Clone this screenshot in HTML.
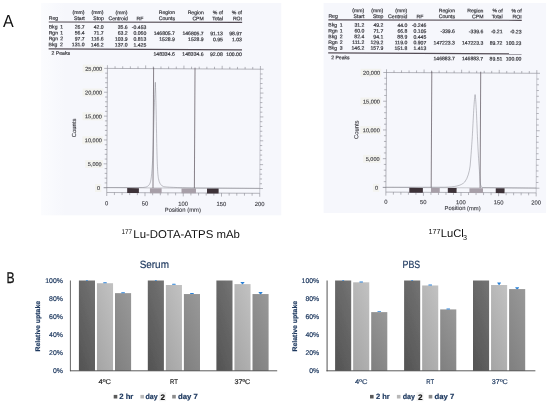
<!DOCTYPE html>
<html><head><meta charset="utf-8"><title>Figure</title>
<style>
html,body{margin:0;padding:0;background:#fff;}
body{width:550px;height:406px;overflow:hidden;font-family:"Liberation Sans",sans-serif;}
svg{display:block;font-family:"Liberation Sans",sans-serif;text-rendering:geometricPrecision;}
</style></head><body>
<svg width="550" height="406" viewBox="0 0 550 406">
<defs>
<linearGradient id="g1" x1="0.147" y1="1.147" x2="0.853" y2="-0.147"><stop offset="0" stop-color="#515151"/><stop offset="1" stop-color="#757575"/></linearGradient>
<linearGradient id="g2" x1="0.147" y1="1.147" x2="0.853" y2="-0.147"><stop offset="0" stop-color="#a3a3a3"/><stop offset="1" stop-color="#c3c3c3"/></linearGradient>
<linearGradient id="g3" x1="0.147" y1="1.147" x2="0.853" y2="-0.147"><stop offset="0" stop-color="#7e7e7e"/><stop offset="1" stop-color="#9a9a9a"/></linearGradient>
<linearGradient id="pg" x1="0" x2="1" y1="0" y2="0"><stop offset="0" stop-color="#fbfcfe"/><stop offset="0.1" stop-color="#f6f7fc"/><stop offset="1" stop-color="#f6f7fc"/></linearGradient>
<filter id="soft" x="-2%" y="-2%" width="104%" height="104%"><feGaussianBlur stdDeviation="0.35"/></filter>
<filter id="soft2" x="-2%" y="-5%" width="104%" height="110%"><feGaussianBlur stdDeviation="0.3"/></filter>
</defs>
<rect width="550" height="406" fill="#fff"/>
<text x="3.1" y="27.1" font-size="17.6" fill="#111" textLength="10.7" lengthAdjust="spacingAndGlyphs">A</text>
<text x="6.5" y="282.7" font-size="15.5" fill="#111" stroke="#111" stroke-width="0.25" textLength="8.1" lengthAdjust="spacingAndGlyphs">B</text>
<rect x="41.0" y="3" width="240.2" height="212.3" fill="url(#pg)"/>
<g filter="url(#soft)"><g transform="rotate(0.3 183 128)">
<text x="83.9" y="14.5" text-anchor="end" font-size="5.1" fill="#36363c" stroke="#36363c" stroke-width="0.2">(mm)</text>
<text x="102.9" y="14.5" text-anchor="end" font-size="5.1" fill="#36363c" stroke="#36363c" stroke-width="0.2">(mm)</text>
<text x="126.9" y="14.5" text-anchor="end" font-size="5.1" fill="#36363c" stroke="#36363c" stroke-width="0.2">(mm)</text>
<text x="174.4" y="14.1" text-anchor="end" font-size="5.1" fill="#36363c" stroke="#36363c" stroke-width="0.2">Region</text>
<text x="203.2" y="14.1" text-anchor="end" font-size="5.1" fill="#36363c" stroke="#36363c" stroke-width="0.2">Region</text>
<text x="222.4" y="14.0" text-anchor="end" font-size="5.1" fill="#36363c" stroke="#36363c" stroke-width="0.2">% of</text>
<text x="241.4" y="14.0" text-anchor="end" font-size="5.1" fill="#36363c" stroke="#36363c" stroke-width="0.2">% of</text>
<text x="48.2" y="20.5" font-size="5.1" fill="#36363c" stroke="#36363c" stroke-width="0.2">Reg</text>
<text x="84.2" y="20.5" text-anchor="end" font-size="5.1" fill="#36363c" stroke="#36363c" stroke-width="0.2">Start</text>
<text x="103.2" y="20.5" text-anchor="end" font-size="5.1" fill="#36363c" stroke="#36363c" stroke-width="0.2">Stop</text>
<text x="127.2" y="20.5" text-anchor="end" font-size="5.1" fill="#36363c" stroke="#36363c" stroke-width="0.2">Centroid</text>
<text x="142.8" y="20.5" text-anchor="end" font-size="5.1" fill="#36363c" stroke="#36363c" stroke-width="0.2">RF</text>
<text x="174.4" y="20.2" text-anchor="end" font-size="5.1" fill="#36363c" stroke="#36363c" stroke-width="0.2">Counts</text>
<text x="203.2" y="20.2" text-anchor="end" font-size="5.1" fill="#36363c" stroke="#36363c" stroke-width="0.2">CPM</text>
<text x="222.4" y="20.1" text-anchor="end" font-size="5.1" fill="#36363c" stroke="#36363c" stroke-width="0.2">Total</text>
<text x="241.4" y="20.1" text-anchor="end" font-size="5.1" fill="#36363c" stroke="#36363c" stroke-width="0.2">ROI</text>
<line x1="48.2" x2="241.6" y1="22.7" y2="22.099999999999998" stroke="#554d56" stroke-width="1.15"/>
<line x1="48.2" x2="241.6" y1="49.6" y2="49.6" stroke="#554d56" stroke-width="1.15"/>
<text x="48.2" y="29.2" font-size="5.1" fill="#36363c" stroke="#36363c" stroke-width="0.2">Bkg</text>
<text x="59.7" y="29.2" font-size="5.1" fill="#36363c" stroke="#36363c" stroke-width="0.2">1</text>
<text x="84.2" y="29.2" text-anchor="end" font-size="5.1" fill="#36363c" stroke="#36363c" stroke-width="0.2">26.7</text>
<text x="103.2" y="29.2" text-anchor="end" font-size="5.1" fill="#36363c" stroke="#36363c" stroke-width="0.2">42.0</text>
<text x="127.2" y="29.2" text-anchor="end" font-size="5.1" fill="#36363c" stroke="#36363c" stroke-width="0.2">35.6</text>
<text x="145.8" y="29.2" text-anchor="end" font-size="5.1" fill="#36363c" stroke="#36363c" stroke-width="0.2">-0.453</text>
<text x="48.2" y="35.1" font-size="5.1" fill="#36363c" stroke="#36363c" stroke-width="0.2">Rgn</text>
<text x="59.7" y="35.1" font-size="5.1" fill="#36363c" stroke="#36363c" stroke-width="0.2">1</text>
<text x="84.2" y="35.1" text-anchor="end" font-size="5.1" fill="#36363c" stroke="#36363c" stroke-width="0.2">56.4</text>
<text x="103.2" y="35.1" text-anchor="end" font-size="5.1" fill="#36363c" stroke="#36363c" stroke-width="0.2">71.7</text>
<text x="127.2" y="35.1" text-anchor="end" font-size="5.1" fill="#36363c" stroke="#36363c" stroke-width="0.2">63.2</text>
<text x="145.8" y="35.1" text-anchor="end" font-size="5.1" fill="#36363c" stroke="#36363c" stroke-width="0.2">0.060</text>
<text x="174.4" y="35.1" text-anchor="end" font-size="5.1" fill="#36363c" stroke="#36363c" stroke-width="0.2">146805.7</text>
<text x="203.2" y="35.1" text-anchor="end" font-size="5.1" fill="#36363c" stroke="#36363c" stroke-width="0.2">146805.7</text>
<text x="222.4" y="35.1" text-anchor="end" font-size="5.1" fill="#36363c" stroke="#36363c" stroke-width="0.2">91.13</text>
<text x="241.4" y="35.1" text-anchor="end" font-size="5.1" fill="#36363c" stroke="#36363c" stroke-width="0.2">98.97</text>
<text x="48.2" y="41.0" font-size="5.1" fill="#36363c" stroke="#36363c" stroke-width="0.2">Rgn</text>
<text x="59.7" y="41.0" font-size="5.1" fill="#36363c" stroke="#36363c" stroke-width="0.2">2</text>
<text x="84.2" y="41.0" text-anchor="end" font-size="5.1" fill="#36363c" stroke="#36363c" stroke-width="0.2">97.7</text>
<text x="103.2" y="41.0" text-anchor="end" font-size="5.1" fill="#36363c" stroke="#36363c" stroke-width="0.2">116.6</text>
<text x="127.2" y="41.0" text-anchor="end" font-size="5.1" fill="#36363c" stroke="#36363c" stroke-width="0.2">103.9</text>
<text x="145.8" y="41.0" text-anchor="end" font-size="5.1" fill="#36363c" stroke="#36363c" stroke-width="0.2">0.813</text>
<text x="174.4" y="41.0" text-anchor="end" font-size="5.1" fill="#36363c" stroke="#36363c" stroke-width="0.2">1528.9</text>
<text x="203.2" y="41.0" text-anchor="end" font-size="5.1" fill="#36363c" stroke="#36363c" stroke-width="0.2">1528.9</text>
<text x="222.4" y="41.0" text-anchor="end" font-size="5.1" fill="#36363c" stroke="#36363c" stroke-width="0.2">0.95</text>
<text x="241.4" y="41.0" text-anchor="end" font-size="5.1" fill="#36363c" stroke="#36363c" stroke-width="0.2">1.03</text>
<text x="48.2" y="46.9" font-size="5.1" fill="#36363c" stroke="#36363c" stroke-width="0.2">Bkg</text>
<text x="59.7" y="46.9" font-size="5.1" fill="#36363c" stroke="#36363c" stroke-width="0.2">2</text>
<text x="84.2" y="46.9" text-anchor="end" font-size="5.1" fill="#36363c" stroke="#36363c" stroke-width="0.2">131.0</text>
<text x="103.2" y="46.9" text-anchor="end" font-size="5.1" fill="#36363c" stroke="#36363c" stroke-width="0.2">146.2</text>
<text x="127.2" y="46.9" text-anchor="end" font-size="5.1" fill="#36363c" stroke="#36363c" stroke-width="0.2">137.0</text>
<text x="145.8" y="46.9" text-anchor="end" font-size="5.1" fill="#36363c" stroke="#36363c" stroke-width="0.2">1.425</text>
<text x="51.2" y="55.4" font-size="5.1" fill="#36363c" stroke="#36363c" stroke-width="0.2">2 Peaks</text>
<text x="174.4" y="55.8" text-anchor="end" font-size="5.1" fill="#36363c" stroke="#36363c" stroke-width="0.2">148334.6</text>
<text x="203.2" y="55.8" text-anchor="end" font-size="5.1" fill="#36363c" stroke="#36363c" stroke-width="0.2">148334.6</text>
<text x="222.4" y="55.8" text-anchor="end" font-size="5.1" fill="#36363c" stroke="#36363c" stroke-width="0.2">92.08</text>
<text x="241.4" y="55.8" text-anchor="end" font-size="5.1" fill="#36363c" stroke="#36363c" stroke-width="0.2">100.00</text>
<path d="M260.1 68.8 H107.1 V192.9 H260.1" stroke="#70707a" stroke-width="0.5" fill="none"/>
<path d="M260.1 68.8 V192.9" stroke="#8e8e98" stroke-width="0.45" fill="none"/>
<line x1="104.1" x2="260.1" y1="188.1" y2="188.1" stroke="#8a8a92" stroke-width="0.45"/>
<path d="M107.10 68.8 v-3.2 M107.10 192.9 v3.5 M114.75 68.8 v-2.2 M114.75 192.9 v2.5 M122.40 68.8 v-2.2 M122.40 192.9 v2.5 M130.05 68.8 v-2.2 M130.05 192.9 v2.5 M137.70 68.8 v-2.2 M137.70 192.9 v2.5 M145.35 68.8 v-3.2 M145.35 192.9 v3.5 M153.00 68.8 v-2.2 M153.00 192.9 v2.5 M160.65 68.8 v-2.2 M160.65 192.9 v2.5 M168.30 68.8 v-2.2 M168.30 192.9 v2.5 M175.95 68.8 v-2.2 M175.95 192.9 v2.5 M183.60 68.8 v-3.2 M183.60 192.9 v3.5 M191.25 68.8 v-2.2 M191.25 192.9 v2.5 M198.90 68.8 v-2.2 M198.90 192.9 v2.5 M206.55 68.8 v-2.2 M206.55 192.9 v2.5 M214.20 68.8 v-2.2 M214.20 192.9 v2.5 M221.85 68.8 v-3.2 M221.85 192.9 v3.5 M229.50 68.8 v-2.2 M229.50 192.9 v2.5 M237.15 68.8 v-2.2 M237.15 192.9 v2.5 M244.80 68.8 v-2.2 M244.80 192.9 v2.5 M252.45 68.8 v-2.2 M252.45 192.9 v2.5 M260.10 68.8 v-3.2 M260.10 192.9 v3.5" stroke="#70707a" stroke-width="0.5" fill="none"/>
<path d="M107.1 188.10 h-3.2 M260.1 188.10 h3.2 M107.1 183.33 h-2.2 M260.1 183.33 h2.2 M107.1 178.56 h-2.2 M260.1 178.56 h2.2 M107.1 173.78 h-2.2 M260.1 173.78 h2.2 M107.1 169.01 h-2.2 M260.1 169.01 h2.2 M107.1 164.24 h-3.2 M260.1 164.24 h3.2 M107.1 159.47 h-2.2 M260.1 159.47 h2.2 M107.1 154.70 h-2.2 M260.1 154.70 h2.2 M107.1 149.92 h-2.2 M260.1 149.92 h2.2 M107.1 145.15 h-2.2 M260.1 145.15 h2.2 M107.1 140.38 h-3.2 M260.1 140.38 h3.2 M107.1 135.61 h-2.2 M260.1 135.61 h2.2 M107.1 130.84 h-2.2 M260.1 130.84 h2.2 M107.1 126.06 h-2.2 M260.1 126.06 h2.2 M107.1 121.29 h-2.2 M260.1 121.29 h2.2 M107.1 116.52 h-3.2 M260.1 116.52 h3.2 M107.1 111.75 h-2.2 M260.1 111.75 h2.2 M107.1 106.98 h-2.2 M260.1 106.98 h2.2 M107.1 102.20 h-2.2 M260.1 102.20 h2.2 M107.1 97.43 h-2.2 M260.1 97.43 h2.2 M107.1 92.66 h-3.2 M260.1 92.66 h3.2 M107.1 87.89 h-2.2 M260.1 87.89 h2.2 M107.1 83.12 h-2.2 M260.1 83.12 h2.2 M107.1 78.34 h-2.2 M260.1 78.34 h2.2 M107.1 73.57 h-2.2 M260.1 73.57 h2.2 M107.1 68.80 h-3.2 M260.1 68.80 h3.2" stroke="#70707a" stroke-width="0.5" fill="none"/>
<rect x="95.30" y="184.40" width="6.40" height="8" fill="#f3f3ef"/>
<text x="100.50" y="190.45" text-anchor="end" font-size="5.55" fill="#3a3a40" stroke="#3a3a40" stroke-width="0.12">0</text>
<rect x="85.40" y="160.54" width="17.70" height="8" fill="#f3f3ef"/>
<text x="101.90" y="166.59" text-anchor="end" font-size="5.55" fill="#3a3a40" stroke="#3a3a40" stroke-width="0.12">5,000</text>
<rect x="82.40" y="136.68" width="20.70" height="8" fill="#f3f3ef"/>
<text x="101.90" y="142.73" text-anchor="end" font-size="5.55" fill="#3a3a40" stroke="#3a3a40" stroke-width="0.12">10,000</text>
<rect x="82.40" y="112.82" width="20.70" height="8" fill="#f3f3ef"/>
<text x="101.90" y="118.87" text-anchor="end" font-size="5.55" fill="#3a3a40" stroke="#3a3a40" stroke-width="0.12">15,000</text>
<rect x="82.40" y="88.96" width="20.70" height="8" fill="#f3f3ef"/>
<text x="101.90" y="95.01" text-anchor="end" font-size="5.55" fill="#3a3a40" stroke="#3a3a40" stroke-width="0.12">20,000</text>
<rect x="82.40" y="65.10" width="20.70" height="8" fill="#f3f3ef"/>
<text x="101.90" y="71.15" text-anchor="end" font-size="5.55" fill="#3a3a40" stroke="#3a3a40" stroke-width="0.12">25,000</text>
<text x="107.10" y="205.7" text-anchor="middle" font-size="5.85" fill="#3a3a40" stroke="#3a3a40" stroke-width="0.12">0</text>
<text x="145.35" y="205.7" text-anchor="middle" font-size="5.85" fill="#3a3a40" stroke="#3a3a40" stroke-width="0.12">50</text>
<text x="183.60" y="205.7" text-anchor="middle" font-size="5.85" fill="#3a3a40" stroke="#3a3a40" stroke-width="0.12">100</text>
<text x="221.85" y="205.7" text-anchor="middle" font-size="5.85" fill="#3a3a40" stroke="#3a3a40" stroke-width="0.12">150</text>
<text x="260.10" y="205.7" text-anchor="middle" font-size="5.85" fill="#3a3a40" stroke="#3a3a40" stroke-width="0.12">200</text>
<text x="183.30" y="211.8" text-anchor="middle" font-size="5.85" fill="#3a3a40" stroke="#3a3a40" stroke-width="0.12">Position (mm)</text>
<text transform="translate(76.0 128.45) rotate(-90)" text-anchor="middle" font-size="5.85" fill="#3a3a40" stroke="#3a3a40" stroke-width="0.12">Counts</text>
<rect x="127.53" y="188.4" width="11.70" height="4.90" fill="#3d3238"/>
<rect x="150.25" y="188.4" width="11.70" height="4.90" fill="#a79fa8"/>
<rect x="181.84" y="188.4" width="14.46" height="4.90" fill="#a79fa8"/>
<rect x="207.31" y="188.4" width="11.63" height="4.90" fill="#3d3238"/>
<line x1="153.3" x2="153.3" y1="67.6" y2="188.1" stroke="#625a62" stroke-width="0.75"/>
<line x1="194.7" x2="194.7" y1="67.6" y2="188.1" stroke="#625a62" stroke-width="0.75"/>
<path d="M107.2 187.9 L143 187.7 C147 187.5 149.5 186.5 150.8 182 C152 177 152.6 165 153.2 150 C153.8 125 154.4 95 155.1 82.4 C155.8 95 156.2 120 156.6 134 C156.9 148 157.2 157 157.5 164 C157.9 172 158.2 176 158.7 178.6 C159.5 183 161 185.8 164 186.8 C170 187.5 185 187.8 196 187.9 L260 187.9" stroke="#77777f" stroke-width="0.45" fill="none"/>
</g></g>
<rect x="323.6" y="3.0" width="222.5" height="209.9" fill="#f6f7fc"/>
<g filter="url(#soft)"><g transform="rotate(0.3 461 130)">
<text x="363.5" y="12.7" text-anchor="end" font-size="5.1" fill="#36363c" stroke="#36363c" stroke-width="0.2">(mm)</text>
<text x="382.5" y="12.7" text-anchor="end" font-size="5.1" fill="#36363c" stroke="#36363c" stroke-width="0.2">(mm)</text>
<text x="406.5" y="12.7" text-anchor="end" font-size="5.1" fill="#36363c" stroke="#36363c" stroke-width="0.2">(mm)</text>
<text x="454.4" y="12.299999999999999" text-anchor="end" font-size="5.1" fill="#36363c" stroke="#36363c" stroke-width="0.2">Region</text>
<text x="482.8" y="12.299999999999999" text-anchor="end" font-size="5.1" fill="#36363c" stroke="#36363c" stroke-width="0.2">Region</text>
<text x="502.0" y="12.2" text-anchor="end" font-size="5.1" fill="#36363c" stroke="#36363c" stroke-width="0.2">% of</text>
<text x="521.0" y="12.2" text-anchor="end" font-size="5.1" fill="#36363c" stroke="#36363c" stroke-width="0.2">% of</text>
<text x="327.8" y="18.5" font-size="5.1" fill="#36363c" stroke="#36363c" stroke-width="0.2">Reg</text>
<text x="363.8" y="18.5" text-anchor="end" font-size="5.1" fill="#36363c" stroke="#36363c" stroke-width="0.2">Start</text>
<text x="382.8" y="18.5" text-anchor="end" font-size="5.1" fill="#36363c" stroke="#36363c" stroke-width="0.2">Stop</text>
<text x="406.8" y="18.5" text-anchor="end" font-size="5.1" fill="#36363c" stroke="#36363c" stroke-width="0.2">Centroid</text>
<text x="422.8" y="18.5" text-anchor="end" font-size="5.1" fill="#36363c" stroke="#36363c" stroke-width="0.2">RF</text>
<text x="454.4" y="18.2" text-anchor="end" font-size="5.1" fill="#36363c" stroke="#36363c" stroke-width="0.2">Counts</text>
<text x="482.8" y="18.2" text-anchor="end" font-size="5.1" fill="#36363c" stroke="#36363c" stroke-width="0.2">CPM</text>
<text x="502.0" y="18.1" text-anchor="end" font-size="5.1" fill="#36363c" stroke="#36363c" stroke-width="0.2">Total</text>
<text x="521.0" y="18.1" text-anchor="end" font-size="5.1" fill="#36363c" stroke="#36363c" stroke-width="0.2">ROI</text>
<line x1="327.8" x2="521.2" y1="20.6" y2="20.0" stroke="#554d56" stroke-width="1.15"/>
<line x1="327.8" x2="521.2" y1="53.6" y2="53.6" stroke="#554d56" stroke-width="1.15"/>
<text x="327.8" y="27.3" font-size="5.1" fill="#36363c" stroke="#36363c" stroke-width="0.2">Bkg</text>
<text x="339.3" y="27.3" font-size="5.1" fill="#36363c" stroke="#36363c" stroke-width="0.2">1</text>
<text x="363.8" y="27.3" text-anchor="end" font-size="5.1" fill="#36363c" stroke="#36363c" stroke-width="0.2">31.2</text>
<text x="382.8" y="27.3" text-anchor="end" font-size="5.1" fill="#36363c" stroke="#36363c" stroke-width="0.2">49.2</text>
<text x="406.8" y="27.3" text-anchor="end" font-size="5.1" fill="#36363c" stroke="#36363c" stroke-width="0.2">44.0</text>
<text x="425.8" y="27.3" text-anchor="end" font-size="5.1" fill="#36363c" stroke="#36363c" stroke-width="0.2">-0.246</text>
<text x="327.8" y="33.1" font-size="5.1" fill="#36363c" stroke="#36363c" stroke-width="0.2">Rgn</text>
<text x="339.3" y="33.1" font-size="5.1" fill="#36363c" stroke="#36363c" stroke-width="0.2">1</text>
<text x="363.8" y="33.1" text-anchor="end" font-size="5.1" fill="#36363c" stroke="#36363c" stroke-width="0.2">60.0</text>
<text x="382.8" y="33.1" text-anchor="end" font-size="5.1" fill="#36363c" stroke="#36363c" stroke-width="0.2">71.7</text>
<text x="406.8" y="33.1" text-anchor="end" font-size="5.1" fill="#36363c" stroke="#36363c" stroke-width="0.2">66.8</text>
<text x="425.8" y="33.1" text-anchor="end" font-size="5.1" fill="#36363c" stroke="#36363c" stroke-width="0.2">0.105</text>
<text x="454.4" y="33.1" text-anchor="end" font-size="5.1" fill="#36363c" stroke="#36363c" stroke-width="0.2">-339.6</text>
<text x="482.8" y="33.1" text-anchor="end" font-size="5.1" fill="#36363c" stroke="#36363c" stroke-width="0.2">-339.6</text>
<text x="502.0" y="33.1" text-anchor="end" font-size="5.1" fill="#36363c" stroke="#36363c" stroke-width="0.2">-0.21</text>
<text x="521.0" y="33.1" text-anchor="end" font-size="5.1" fill="#36363c" stroke="#36363c" stroke-width="0.2">-0.23</text>
<text x="327.8" y="38.9" font-size="5.1" fill="#36363c" stroke="#36363c" stroke-width="0.2">Bkg</text>
<text x="339.3" y="38.9" font-size="5.1" fill="#36363c" stroke="#36363c" stroke-width="0.2">2</text>
<text x="363.8" y="38.9" text-anchor="end" font-size="5.1" fill="#36363c" stroke="#36363c" stroke-width="0.2">82.4</text>
<text x="382.8" y="38.9" text-anchor="end" font-size="5.1" fill="#36363c" stroke="#36363c" stroke-width="0.2">94.1</text>
<text x="406.8" y="38.9" text-anchor="end" font-size="5.1" fill="#36363c" stroke="#36363c" stroke-width="0.2">88.9</text>
<text x="425.8" y="38.9" text-anchor="end" font-size="5.1" fill="#36363c" stroke="#36363c" stroke-width="0.2">0.445</text>
<text x="327.8" y="44.6" font-size="5.1" fill="#36363c" stroke="#36363c" stroke-width="0.2">Rgn</text>
<text x="339.3" y="44.6" font-size="5.1" fill="#36363c" stroke="#36363c" stroke-width="0.2">2</text>
<text x="363.8" y="44.6" text-anchor="end" font-size="5.1" fill="#36363c" stroke="#36363c" stroke-width="0.2">111.2</text>
<text x="382.8" y="44.6" text-anchor="end" font-size="5.1" fill="#36363c" stroke="#36363c" stroke-width="0.2">129.2</text>
<text x="406.8" y="44.6" text-anchor="end" font-size="5.1" fill="#36363c" stroke="#36363c" stroke-width="0.2">119.0</text>
<text x="425.8" y="44.6" text-anchor="end" font-size="5.1" fill="#36363c" stroke="#36363c" stroke-width="0.2">0.907</text>
<text x="454.4" y="44.6" text-anchor="end" font-size="5.1" fill="#36363c" stroke="#36363c" stroke-width="0.2">147223.3</text>
<text x="482.8" y="44.6" text-anchor="end" font-size="5.1" fill="#36363c" stroke="#36363c" stroke-width="0.2">147223.3</text>
<text x="502.0" y="44.6" text-anchor="end" font-size="5.1" fill="#36363c" stroke="#36363c" stroke-width="0.2">89.72</text>
<text x="521.0" y="44.6" text-anchor="end" font-size="5.1" fill="#36363c" stroke="#36363c" stroke-width="0.2">100.23</text>
<text x="327.8" y="50.3" font-size="5.1" fill="#36363c" stroke="#36363c" stroke-width="0.2">Bkg</text>
<text x="339.3" y="50.3" font-size="5.1" fill="#36363c" stroke="#36363c" stroke-width="0.2">3</text>
<text x="363.8" y="50.3" text-anchor="end" font-size="5.1" fill="#36363c" stroke="#36363c" stroke-width="0.2">146.2</text>
<text x="382.8" y="50.3" text-anchor="end" font-size="5.1" fill="#36363c" stroke="#36363c" stroke-width="0.2">157.9</text>
<text x="406.8" y="50.3" text-anchor="end" font-size="5.1" fill="#36363c" stroke="#36363c" stroke-width="0.2">151.8</text>
<text x="425.8" y="50.3" text-anchor="end" font-size="5.1" fill="#36363c" stroke="#36363c" stroke-width="0.2">1.413</text>
<text x="330.8" y="59.9" font-size="5.1" fill="#36363c" stroke="#36363c" stroke-width="0.2">2 Peaks</text>
<text x="454.4" y="60.3" text-anchor="end" font-size="5.1" fill="#36363c" stroke="#36363c" stroke-width="0.2">146883.7</text>
<text x="482.8" y="60.3" text-anchor="end" font-size="5.1" fill="#36363c" stroke="#36363c" stroke-width="0.2">146883.7</text>
<text x="502.0" y="60.3" text-anchor="end" font-size="5.1" fill="#36363c" stroke="#36363c" stroke-width="0.2">89.51</text>
<text x="521.0" y="60.3" text-anchor="end" font-size="5.1" fill="#36363c" stroke="#36363c" stroke-width="0.2">100.00</text>
<path d="M536.5 72.9 H386.2 V192.5 H536.5" stroke="#70707a" stroke-width="0.5" fill="none"/>
<path d="M536.5 72.9 V192.5" stroke="#8e8e98" stroke-width="0.45" fill="none"/>
<line x1="383.2" x2="536.5" y1="187.8" y2="187.8" stroke="#8a8a92" stroke-width="0.45"/>
<path d="M386.20 72.9 v-3.2 M386.20 192.5 v3.5 M393.71 72.9 v-2.2 M393.71 192.5 v2.5 M401.23 72.9 v-2.2 M401.23 192.5 v2.5 M408.75 72.9 v-2.2 M408.75 192.5 v2.5 M416.26 72.9 v-2.2 M416.26 192.5 v2.5 M423.77 72.9 v-3.2 M423.77 192.5 v3.5 M431.29 72.9 v-2.2 M431.29 192.5 v2.5 M438.81 72.9 v-2.2 M438.81 192.5 v2.5 M446.32 72.9 v-2.2 M446.32 192.5 v2.5 M453.83 72.9 v-2.2 M453.83 192.5 v2.5 M461.35 72.9 v-3.2 M461.35 192.5 v3.5 M468.87 72.9 v-2.2 M468.87 192.5 v2.5 M476.38 72.9 v-2.2 M476.38 192.5 v2.5 M483.89 72.9 v-2.2 M483.89 192.5 v2.5 M491.41 72.9 v-2.2 M491.41 192.5 v2.5 M498.93 72.9 v-3.2 M498.93 192.5 v3.5 M506.44 72.9 v-2.2 M506.44 192.5 v2.5 M513.96 72.9 v-2.2 M513.96 192.5 v2.5 M521.47 72.9 v-2.2 M521.47 192.5 v2.5 M528.99 72.9 v-2.2 M528.99 192.5 v2.5 M536.50 72.9 v-3.2 M536.50 192.5 v3.5" stroke="#70707a" stroke-width="0.5" fill="none"/>
<path d="M386.2 187.80 h-3.2 M536.5 187.80 h3.2 M386.2 182.06 h-2.2 M536.5 182.06 h2.2 M386.2 176.31 h-2.2 M536.5 176.31 h2.2 M386.2 170.56 h-2.2 M536.5 170.56 h2.2 M386.2 164.82 h-2.2 M536.5 164.82 h2.2 M386.2 159.08 h-3.2 M536.5 159.08 h3.2 M386.2 153.33 h-2.2 M536.5 153.33 h2.2 M386.2 147.59 h-2.2 M536.5 147.59 h2.2 M386.2 141.84 h-2.2 M536.5 141.84 h2.2 M386.2 136.09 h-2.2 M536.5 136.09 h2.2 M386.2 130.35 h-3.2 M536.5 130.35 h3.2 M386.2 124.61 h-2.2 M536.5 124.61 h2.2 M386.2 118.86 h-2.2 M536.5 118.86 h2.2 M386.2 113.12 h-2.2 M536.5 113.12 h2.2 M386.2 107.37 h-2.2 M536.5 107.37 h2.2 M386.2 101.63 h-3.2 M536.5 101.63 h3.2 M386.2 95.88 h-2.2 M536.5 95.88 h2.2 M386.2 90.14 h-2.2 M536.5 90.14 h2.2 M386.2 84.39 h-2.2 M536.5 84.39 h2.2 M386.2 78.65 h-2.2 M536.5 78.65 h2.2 M386.2 72.90 h-3.2 M536.5 72.90 h3.2" stroke="#70707a" stroke-width="0.5" fill="none"/>
<rect x="373.20" y="184.10" width="6.40" height="8" fill="#f3f3ef"/>
<text x="378.40" y="190.15" text-anchor="end" font-size="5.55" fill="#3a3a40" stroke="#3a3a40" stroke-width="0.12">0</text>
<rect x="363.30" y="155.38" width="17.70" height="8" fill="#f3f3ef"/>
<text x="379.80" y="161.43" text-anchor="end" font-size="5.55" fill="#3a3a40" stroke="#3a3a40" stroke-width="0.12">5,000</text>
<rect x="360.30" y="126.65" width="20.70" height="8" fill="#f3f3ef"/>
<text x="379.80" y="132.70" text-anchor="end" font-size="5.55" fill="#3a3a40" stroke="#3a3a40" stroke-width="0.12">10,000</text>
<rect x="360.30" y="97.92" width="20.70" height="8" fill="#f3f3ef"/>
<text x="379.80" y="103.97" text-anchor="end" font-size="5.55" fill="#3a3a40" stroke="#3a3a40" stroke-width="0.12">15,000</text>
<rect x="360.30" y="69.20" width="20.70" height="8" fill="#f3f3ef"/>
<text x="379.80" y="75.25" text-anchor="end" font-size="5.55" fill="#3a3a40" stroke="#3a3a40" stroke-width="0.12">20,000</text>
<text x="386.20" y="204.2" text-anchor="middle" font-size="5.85" fill="#3a3a40" stroke="#3a3a40" stroke-width="0.12">0</text>
<text x="423.77" y="204.2" text-anchor="middle" font-size="5.85" fill="#3a3a40" stroke="#3a3a40" stroke-width="0.12">50</text>
<text x="461.35" y="204.2" text-anchor="middle" font-size="5.85" fill="#3a3a40" stroke="#3a3a40" stroke-width="0.12">100</text>
<text x="498.93" y="204.2" text-anchor="middle" font-size="5.85" fill="#3a3a40" stroke="#3a3a40" stroke-width="0.12">150</text>
<text x="536.50" y="204.2" text-anchor="middle" font-size="5.85" fill="#3a3a40" stroke="#3a3a40" stroke-width="0.12">200</text>
<text x="463.05" y="210.1" text-anchor="middle" font-size="5.85" fill="#3a3a40" stroke="#3a3a40" stroke-width="0.12">Position (mm)</text>
<text transform="translate(358.4 130.35) rotate(-90)" text-anchor="middle" font-size="5.85" fill="#3a3a40" stroke="#3a3a40" stroke-width="0.12">Counts</text>
<rect x="409.65" y="188.10000000000002" width="13.53" height="4.80" fill="#3d3238"/>
<rect x="431.29" y="188.10000000000002" width="8.79" height="4.80" fill="#a79fa8"/>
<rect x="448.12" y="188.10000000000002" width="8.79" height="4.80" fill="#3d3238"/>
<rect x="469.77" y="188.10000000000002" width="13.53" height="4.80" fill="#a79fa8"/>
<rect x="496.07" y="188.10000000000002" width="8.79" height="4.80" fill="#3d3238"/>
<line x1="431.5" x2="431.5" y1="71.6" y2="187.8" stroke="#625a62" stroke-width="0.75"/>
<line x1="480.4" x2="480.4" y1="71.6" y2="187.8" stroke="#625a62" stroke-width="0.75"/>
<path d="M386.2 187.6 L445 187.3 C455 187 461 186 465 182 C468 178 469.5 172 470.3 166 C471.2 155 471.8 145 472.2 139 C473 125 473.8 100 474.9 94.5 C476 100 476.9 125 477.6 139 C478.3 152 478.8 160 479.3 166 C479.9 174 480.2 180 480.6 183 C481 186 481.6 187.2 483 187.4 L536.5 187.6" stroke="#77777f" stroke-width="0.45" fill="none"/>
</g></g>
<text x="121.4" y="234.1" font-size="7.1" fill="#111" textLength="10.8" lengthAdjust="spacingAndGlyphs">177</text>
<text x="133.3" y="238.1" font-size="11.4" fill="#111">Lu-DOTA-ATPS mAb</text>
<text x="428.4" y="233.7" font-size="7.2" fill="#111">177</text>
<text x="440.7" y="237.2" font-size="11.2" fill="#111">LuCl</text>
<text x="463.1" y="240.4" font-size="7.2" fill="#111">3</text>
<g filter="url(#soft2)">
<rect x="78.90" y="280.50" width="16.1" height="90.30" fill="url(#g1)"/>
<rect x="85.95" y="279.95" width="2.0" height="0.95" rx="0.3" fill="#2a80d6" opacity="0.7"/>
<rect x="96.95" y="283.21" width="16.1" height="87.59" fill="url(#g2)"/>
<rect x="103.20" y="282.36" width="3.6" height="0.95" rx="0.3" fill="#2a80d6" opacity="1"/>
<rect x="115.00" y="293.14" width="16.1" height="77.66" fill="url(#g3)"/>
<rect x="121.25" y="292.29" width="3.6" height="0.95" rx="0.3" fill="#2a80d6" opacity="1"/>
<rect x="147.80" y="280.50" width="16.1" height="90.30" fill="url(#g1)"/>
<rect x="154.85" y="279.95" width="2.0" height="0.95" rx="0.3" fill="#2a80d6" opacity="0.7"/>
<rect x="165.85" y="285.01" width="16.1" height="85.79" fill="url(#g2)"/>
<rect x="172.10" y="283.86" width="3.6" height="0.95" rx="0.3" fill="#2a80d6" opacity="1"/>
<rect x="183.90" y="294.05" width="16.1" height="76.75" fill="url(#g3)"/>
<rect x="190.15" y="293.00" width="3.6" height="0.95" rx="0.3" fill="#2a80d6" opacity="1"/>
<rect x="216.40" y="280.50" width="16.1" height="90.30" fill="url(#g1)"/>
<rect x="234.45" y="284.11" width="16.1" height="86.69" fill="url(#g2)"/>
<path d="M240.70 281.91 h3.6 v0.6 l-1.50 1.70 h-0.6 l-1.50 -1.70 Z" fill="#2a80d6" opacity="1"/>
<rect x="252.50" y="294.05" width="16.1" height="76.75" fill="url(#g3)"/>
<path d="M258.75 292.05 h3.6 v0.6 l-1.50 1.50 h-0.6 l-1.50 -1.50 Z" fill="#2a80d6" opacity="1"/>
</g>
<line x1="70.4" x2="70.4" y1="280.5" y2="371.2" stroke="#404040" stroke-width="0.8"/>
<line x1="70.0" x2="277.2" y1="370.8" y2="370.8" stroke="#4a4a4a" stroke-width="0.9"/>
<text x="62.9" y="373.30" font-size="6.9" fill="#1f3a60" stroke="#1f3a60" stroke-width="0.18" text-anchor="end">0%</text>
<text x="62.9" y="355.24" font-size="6.9" fill="#1f3a60" stroke="#1f3a60" stroke-width="0.18" text-anchor="end">20%</text>
<text x="62.9" y="337.18" font-size="6.9" fill="#1f3a60" stroke="#1f3a60" stroke-width="0.18" text-anchor="end">40%</text>
<text x="62.9" y="319.12" font-size="6.9" fill="#1f3a60" stroke="#1f3a60" stroke-width="0.18" text-anchor="end">60%</text>
<text x="62.9" y="301.06" font-size="6.9" fill="#1f3a60" stroke="#1f3a60" stroke-width="0.18" text-anchor="end">80%</text>
<text x="62.9" y="283.00" font-size="6.9" fill="#1f3a60" stroke="#1f3a60" stroke-width="0.18" text-anchor="end">100%</text>
<text transform="translate(40.3 326.2) rotate(-90)" text-anchor="middle" font-size="6.7" font-weight="bold" fill="#1f3a60" stroke="#1f3a60" stroke-width="0.2" textLength="50.5" lengthAdjust="spacingAndGlyphs">Relative uptake</text>
<text x="154.3" y="267.6" font-size="10.5" fill="#1f3a60" stroke="#1f3a60" stroke-width="0.18" text-anchor="middle" textLength="29.3" lengthAdjust="spacingAndGlyphs">Serum</text>
<text x="104.7" y="383.8" font-size="6.8" fill="#222" stroke="#222" stroke-width="0.18" text-anchor="middle" textLength="12.4" lengthAdjust="spacingAndGlyphs">4ºC</text>
<text x="173.9" y="383.8" font-size="6.8" fill="#222" stroke="#222" stroke-width="0.18" text-anchor="middle" textLength="7.8" lengthAdjust="spacingAndGlyphs">RT</text>
<text x="242.4" y="383.8" font-size="6.8" fill="#222" stroke="#222" stroke-width="0.18" text-anchor="middle" textLength="15.9" lengthAdjust="spacingAndGlyphs">37ºC</text>
<rect x="113.7" y="394.9" width="3.6" height="3.6" fill="#5a5a5a"/>
<text x="119.2" y="399.3" font-size="7.6" fill="#1f3a60" stroke="#1f3a60" stroke-width="0.18" font-weight="bold" textLength="14.2" lengthAdjust="spacingAndGlyphs">2 hr</text>
<rect x="140.39999999999998" y="394.9" width="3.6" height="3.6" fill="#b8b8b8"/>
<rect x="159.10" y="392.2" width="7" height="9" fill="#f3f3f3"/>
<text x="145.4" y="399.3" font-size="7.6" fill="#1f3a60" stroke="#1f3a60" stroke-width="0.18" font-weight="bold" textLength="12.2" lengthAdjust="spacingAndGlyphs">day</text>
<text x="160.6" y="399.5" font-size="8.2" fill="#1a1a1a" stroke="#1a1a1a" stroke-width="0.18" font-weight="bold">2</text>
<rect x="172.2" y="394.9" width="3.6" height="3.6" fill="#8c8c8c"/>
<text x="178.0" y="399.3" font-size="7.6" fill="#1f3a60" stroke="#1f3a60" stroke-width="0.18" font-weight="bold" textLength="19.8" lengthAdjust="spacingAndGlyphs">day 7</text>
<g filter="url(#soft2)">
<rect x="335.10" y="280.50" width="16.1" height="90.30" fill="url(#g1)"/>
<rect x="342.15" y="279.95" width="2.0" height="0.95" rx="0.3" fill="#2a80d6" opacity="0.7"/>
<rect x="353.15" y="282.31" width="16.1" height="88.49" fill="url(#g2)"/>
<rect x="359.40" y="281.46" width="3.6" height="0.95" rx="0.3" fill="#2a80d6" opacity="1"/>
<rect x="371.20" y="312.11" width="16.1" height="58.69" fill="url(#g3)"/>
<rect x="377.45" y="311.15" width="3.6" height="0.95" rx="0.3" fill="#2a80d6" opacity="1"/>
<rect x="404.10" y="280.50" width="16.1" height="90.30" fill="url(#g1)"/>
<rect x="411.15" y="279.95" width="2.0" height="0.95" rx="0.3" fill="#2a80d6" opacity="0.7"/>
<rect x="422.15" y="285.47" width="16.1" height="85.33" fill="url(#g2)"/>
<rect x="428.40" y="284.52" width="3.6" height="0.95" rx="0.3" fill="#2a80d6" opacity="1"/>
<rect x="440.20" y="309.40" width="16.1" height="61.40" fill="url(#g3)"/>
<rect x="446.45" y="308.45" width="3.6" height="0.95" rx="0.3" fill="#2a80d6" opacity="1"/>
<rect x="473.00" y="280.50" width="16.1" height="90.30" fill="url(#g1)"/>
<rect x="491.05" y="285.01" width="16.1" height="85.79" fill="url(#g2)"/>
<path d="M497.30 282.42 h3.6 v0.6 l-1.50 2.10 h-0.6 l-1.50 -2.10 Z" fill="#2a80d6" opacity="1"/>
<rect x="509.10" y="289.08" width="16.1" height="81.72" fill="url(#g3)"/>
<path d="M515.35 287.28 h3.6 v0.6 l-1.50 1.30 h-0.6 l-1.50 -1.30 Z" fill="#2a80d6" opacity="1"/>
</g>
<line x1="327.1" x2="327.1" y1="280.5" y2="371.2" stroke="#7a7a7a" stroke-width="1.3"/>
<line x1="326.45000000000005" x2="535.4" y1="370.8" y2="370.8" stroke="#4a4a4a" stroke-width="0.9"/>
<text x="319.2" y="373.30" font-size="6.9" fill="#1f3a60" stroke="#1f3a60" stroke-width="0.18" text-anchor="end">0%</text>
<text x="319.2" y="355.24" font-size="6.9" fill="#1f3a60" stroke="#1f3a60" stroke-width="0.18" text-anchor="end">20%</text>
<text x="319.2" y="337.18" font-size="6.9" fill="#1f3a60" stroke="#1f3a60" stroke-width="0.18" text-anchor="end">40%</text>
<text x="319.2" y="319.12" font-size="6.9" fill="#1f3a60" stroke="#1f3a60" stroke-width="0.18" text-anchor="end">60%</text>
<text x="319.2" y="301.06" font-size="6.9" fill="#1f3a60" stroke="#1f3a60" stroke-width="0.18" text-anchor="end">80%</text>
<text x="319.2" y="283.00" font-size="6.9" fill="#1f3a60" stroke="#1f3a60" stroke-width="0.18" text-anchor="end">100%</text>
<text transform="translate(296.9 326.2) rotate(-90)" text-anchor="middle" font-size="6.7" font-weight="bold" fill="#1f3a60" stroke="#1f3a60" stroke-width="0.2" textLength="50.5" lengthAdjust="spacingAndGlyphs">Relative uptake</text>
<text x="411.4" y="267.6" font-size="10.5" fill="#1f3a60" stroke="#1f3a60" stroke-width="0.18" text-anchor="middle" textLength="17.6" lengthAdjust="spacingAndGlyphs">PBS</text>
<text x="361.3" y="383.8" font-size="6.8" fill="#1f3a60" stroke="#1f3a60" stroke-width="0.18" text-anchor="middle" textLength="12.4" lengthAdjust="spacingAndGlyphs">4ºC</text>
<text x="430.2" y="383.8" font-size="6.8" fill="#1f3a60" stroke="#1f3a60" stroke-width="0.18" text-anchor="middle" textLength="7.8" lengthAdjust="spacingAndGlyphs">RT</text>
<text x="499.8" y="383.8" font-size="6.8" fill="#1f3a60" stroke="#1f3a60" stroke-width="0.18" text-anchor="middle" textLength="15.9" lengthAdjust="spacingAndGlyphs">37ºC</text>
<rect x="370.0" y="394.9" width="3.6" height="3.6" fill="#5a5a5a"/>
<text x="376.0" y="399.3" font-size="7.6" fill="#1f3a60" stroke="#1f3a60" stroke-width="0.18" font-weight="bold" textLength="13.8" lengthAdjust="spacingAndGlyphs">2 hr</text>
<rect x="396.9" y="394.9" width="3.6" height="3.6" fill="#b8b8b8"/>
<rect x="416.50" y="392.2" width="7" height="9" fill="#f3f3f3"/>
<text x="402.7" y="399.3" font-size="7.6" fill="#1f3a60" stroke="#1f3a60" stroke-width="0.18" font-weight="bold" textLength="12.3" lengthAdjust="spacingAndGlyphs">day</text>
<text x="418.0" y="399.5" font-size="8.2" fill="#1a1a1a" stroke="#1a1a1a" stroke-width="0.18" font-weight="bold">2</text>
<rect x="428.7" y="394.9" width="3.6" height="3.6" fill="#8c8c8c"/>
<text x="434.5" y="399.3" font-size="7.6" fill="#1f3a60" stroke="#1f3a60" stroke-width="0.18" font-weight="bold" textLength="19.8" lengthAdjust="spacingAndGlyphs">day 7</text>
</svg>
</body></html>
